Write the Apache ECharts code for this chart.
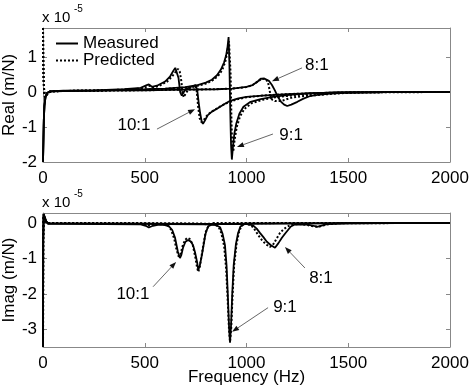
<!DOCTYPE html>
<html><head><meta charset="utf-8">
<script src="https://cdn.jsdelivr.net/npm/echarts@6/dist/echarts.min.js"></script>
<style>html,body{margin:0;padding:0;background:#fff}#c{width:474px;height:389px}</style>
</head><body><div id="c"></div>
<script>
// ---- tick labels / ranges ----
const xTicks = [0, 500, 1000, 1500, 2000];
const realTicks = [-2, -1, 0, 1];
const imagTicks = [-3, -2, -1, 0];
const realRange = [-2, 1.83];
const imagRange = [-3.5, 0.28];
const seriesNames = ['Measured', 'Predicted'];

// ---- Real part (x 1e-5 m/N) ----
const measured10Real = [[0,-2.0],[2,-1.4],[4,-0.8],[7,-0.4],[12,-0.15],[20,-0.03],[35,0.02],[100,0.04],[250,0.05],[400,0.08],[480,0.12],[510,0.2],[520,0.22],[535,0.15],[560,0.18],[600,0.3],[625,0.45],[640,0.6],[650,0.69],[658,0.66],[666,0.4],[674,0.0],[682,-0.1],[690,-0.06],[700,0.08],[720,0.13],[740,0.18],[750,0.2],[758,0.05],[765,-0.3],[772,-0.6],[780,-0.85],[786,-0.91],[795,-0.82],[810,-0.66],[830,-0.56],[855,-0.48],[890,-0.35],[920,-0.25],[960,-0.18],[1000,-0.14],[1080,-0.1],[1200,-0.06],[1300,-0.04],[1450,-0.01],[1700,0.0],[2000,0.0]];
const measured9Real = [[0,-2.0],[2,-1.4],[4,-0.8],[7,-0.4],[12,-0.15],[20,-0.03],[35,0.02],[100,0.03],[300,0.05],[500,0.08],[600,0.1],[700,0.14],[760,0.2],[800,0.27],[830,0.35],[855,0.48],[875,0.65],[890,0.85],[900,1.05],[907,1.3],[912,1.57],[916,0.8],[920,-0.5],[924,-1.5],[928,-1.93],[933,-1.6],[940,-1.2],[950,-0.9],[965,-0.62],[985,-0.42],[1020,-0.28],[1070,-0.2],[1130,-0.14],[1200,-0.09],[1300,-0.04],[1450,-0.01],[1700,0.0],[2000,0.0]];
const measured8Real = [[0,-2.0],[2,-1.4],[4,-0.8],[7,-0.4],[12,-0.15],[20,-0.03],[35,0.02],[100,0.03],[300,0.04],[500,0.05],[700,0.07],[850,0.08],[930,0.1],[1000,0.15],[1030,0.2],[1055,0.3],[1070,0.38],[1078,0.4],[1090,0.38],[1110,0.32],[1125,0.2],[1140,0.04],[1155,-0.15],[1170,-0.28],[1185,-0.36],[1200,-0.4],[1220,-0.36],[1250,-0.28],[1280,-0.19],[1310,-0.12],[1350,-0.08],[1400,-0.05],[1500,-0.02],[1700,0.0],[2000,0.0]];
const predicted10Real = [[0,1.83],[1,1.0],[3,0.35],[6,0.0],[10,-0.15],[16,-0.1],[25,-0.02],[40,0.02],[100,0.03],[250,0.04],[400,0.07],[480,0.1],[515,0.16],[525,0.18],[540,0.13],[570,0.17],[610,0.3],[635,0.45],[652,0.58],[664,0.66],[672,0.58],[680,0.3],[686,-0.05],[692,-0.15],[700,-0.05],[715,0.08],[735,0.14],[750,0.18],[756,0.0],[762,-0.4],[770,-0.75],[778,-0.86],[790,-0.8],[810,-0.64],[840,-0.52],[880,-0.38],[920,-0.27],[960,-0.2],[1000,-0.15],[1080,-0.1],[1200,-0.06],[1350,-0.03],[1500,-0.01],[2000,0.0]];
const predicted9Real = [[0,1.83],[1,1.0],[3,0.35],[6,0.0],[10,-0.15],[16,-0.1],[25,-0.02],[40,0.02],[100,0.03],[300,0.05],[500,0.07],[600,0.09],[700,0.13],[760,0.18],[800,0.24],[830,0.32],[860,0.46],[880,0.62],[895,0.85],[906,1.15],[914,1.45],[918,1.5],[922,0.5],[926,-0.8],[930,-1.6],[935,-1.7],[942,-1.35],[952,-1.0],[968,-0.7],[990,-0.48],[1025,-0.32],[1080,-0.22],[1140,-0.15],[1220,-0.1],[1320,-0.05],[1450,-0.02],[1700,0.0],[2000,0.0]];
const predicted8Real = [[0,1.83],[1,1.0],[3,0.35],[6,0.0],[10,-0.15],[16,-0.1],[25,-0.02],[40,0.02],[100,0.03],[300,0.04],[500,0.05],[700,0.07],[850,0.08],[930,0.1],[1000,0.14],[1030,0.2],[1055,0.3],[1075,0.38],[1090,0.38],[1105,0.3],[1112,0.1],[1118,-0.1],[1126,-0.22],[1140,-0.26],[1160,-0.26],[1180,-0.24],[1200,-0.2],[1230,-0.15],[1270,-0.12],[1320,-0.1],[1380,-0.07],[1450,-0.04],[1550,-0.01],[1700,0.0],[2000,0.0]];

// ---- Imaginary part (x 1e-5 m/N) ----
const measured10Imag = [[0,-3.5],[1,-0.5],[3,0.25],[8,0.2],[15,0.05],[25,-0.02],[60,-0.02],[300,-0.03],[480,-0.04],[505,-0.08],[520,-0.13],[540,-0.08],[570,-0.05],[600,-0.06],[620,-0.1],[635,-0.2],[649,-0.42],[663,-0.82],[673,-0.99],[680,-0.9],[688,-0.7],[700,-0.53],[713,-0.48],[725,-0.52],[737,-0.62],[748,-0.85],[757,-1.1],[763,-1.32],[770,-1.22],[781,-0.9],[790,-0.6],[798,-0.32],[811,-0.1],[835,-0.03],[1000,-0.02],[1300,-0.01],[2000,0.0]];
const measured9Imag = [[0,-3.5],[1,-0.5],[3,0.25],[8,0.2],[15,0.05],[25,-0.02],[60,-0.02],[400,-0.02],[600,-0.03],[800,-0.04],[850,-0.06],[870,-0.12],[882,-0.3],[894,-0.62],[902,-1.2],[908,-2.0],[914,-2.9],[919,-3.38],[924,-2.9],[930,-2.0],[937,-1.2],[948,-0.6],[958,-0.3],[970,-0.1],[993,-0.02],[1300,-0.01],[2000,0.0]];
const measured8Imag = [[0,-3.5],[1,-0.5],[3,0.25],[8,0.2],[15,0.05],[25,-0.02],[60,-0.02],[500,-0.02],[800,-0.03],[1000,-0.03],[1032,-0.07],[1050,-0.16],[1066,-0.28],[1083,-0.4],[1100,-0.53],[1120,-0.63],[1140,-0.7],[1157,-0.57],[1174,-0.42],[1190,-0.3],[1204,-0.2],[1218,-0.1],[1235,-0.05],[1300,-0.05],[1330,-0.08],[1346,-0.11],[1365,-0.08],[1400,-0.03],[1500,-0.01],[2000,0.0]];
const predicted10Imag = [[0,-3.5],[1,-0.5],[3,0.2],[8,0.15],[15,0.03],[25,0.0],[60,0.0],[300,-0.01],[480,-0.02],[510,-0.05],[525,-0.07],[545,-0.04],[600,-0.04],[615,-0.08],[630,-0.2],[645,-0.45],[656,-0.75],[667,-0.95],[676,-0.88],[686,-0.65],[698,-0.48],[710,-0.42],[722,-0.46],[735,-0.6],[748,-0.95],[757,-1.25],[763,-1.38],[770,-1.25],[780,-0.9],[790,-0.55],[800,-0.25],[815,-0.06],[840,0.0],[2000,0.0]];
const predicted9Imag = [[0,-3.5],[1,-0.5],[3,0.2],[8,0.15],[15,0.03],[25,0.0],[60,0.0],[400,-0.01],[700,-0.02],[840,-0.04],[862,-0.1],[876,-0.28],[890,-0.65],[900,-1.3],[907,-2.1],[914,-3.0],[919,-3.35],[925,-2.95],[931,-2.1],[939,-1.2],[951,-0.6],[962,-0.28],[975,-0.08],[1000,-0.01],[1300,0.0],[2000,0.0]];
const predicted8Imag = [[0,-3.5],[1,-0.5],[3,0.2],[8,0.15],[15,0.03],[25,0.0],[60,0.0],[500,-0.01],[800,-0.02],[1000,-0.02],[1025,-0.08],[1042,-0.2],[1057,-0.34],[1075,-0.48],[1095,-0.6],[1115,-0.68],[1130,-0.62],[1147,-0.45],[1165,-0.28],[1182,-0.18],[1199,-0.11],[1220,-0.05],[1260,-0.03],[1300,-0.06],[1330,-0.1],[1360,-0.1],[1390,-0.05],[1450,-0.01],[2000,0.0]];

// ---- annotations (data coordinates) ----
const annotations = [
  {panel:0, text:'8:1',  at:[1346,0.77],  from:[1273,0.69],  to:[1125,0.31]},
  {panel:0, text:'10:1', at:[447,-0.94],  from:[560,-1.06],  to:[747,-0.49]},
  {panel:0, text:'9:1',  at:[1219,-1.23], from:[1130,-1.2],  to:[953,-1.57]},
  {panel:1, text:'10:1', at:[442,-2.0],   from:[541,-1.8],   to:[654,-1.1]},
  {panel:1, text:'9:1',  at:[1189,-2.39], from:[1106,-2.39], to:[929,-3.07]},
  {panel:1, text:'8:1',  at:[1366,-1.55], from:[1287,-1.27], to:[1189,-0.68]}
];

const FONT = '"Liberation Sans", Arial, Helvetica, sans-serif';
const AX = '#888';

function xAx(gridIndex, pos, labels, name) {
  return {
    type: 'value', gridIndex, position: pos, min: xTicks[0], max: xTicks[xTicks.length-1],
    interval: xTicks[1] - xTicks[0],
    name: name || '', nameLocation: 'middle', nameGap: 22, nameMoveOverlap: false,
    nameTextStyle: {fontSize: 17, color: '#000', fontFamily: FONT},
    axisLine: {show: true, onZero: false, lineStyle: {color: AX, width: 1}},
    axisTick: {show: true, inside: true, length: 4, lineStyle: {color: AX}},
    axisLabel: {show: labels, color: '#000', fontSize: 17, margin: 8, fontFamily: FONT,
      formatter: v => String(v)},
    splitLine: {show: false}
  };
}
function yAx(gridIndex, pos, range, ticks, labels, name) {
  return {
    type: 'value', gridIndex, position: pos, min: range[0], max: range[1],
    name: name || '', nameLocation: 'middle', nameGap: 25, nameRotate: 90, nameMoveOverlap: false,
    nameTextStyle: {fontSize: 17, color: '#000', fontFamily: FONT},
    axisLine: {show: true, onZero: false, lineStyle: {color: AX, width: 1}},
    axisTick: {show: true, inside: true, length: 4, customValues: ticks, lineStyle: {color: AX}},
    axisLabel: {show: labels, customValues: ticks, color: '#000', fontSize: 17, margin: 6, fontFamily: FONT,
      formatter: v => String(v)},
    splitLine: {show: false}
  };
}
function ser(name, data, xi, yi, dotted) {
  return {
    type: 'line', name, data, xAxisIndex: xi, yAxisIndex: yi,
    symbol: 'none', showSymbol: false, animation: false, clip: true,
    color: '#000',
    itemStyle: {color: '#000'},
    z: dotted ? 3 : 2,
    lineStyle: dotted ? {color: '#000', width: 2, type: [2, 2]} : {color: '#000', width: 1.8, type: 'solid'}
  };
}

const chart = echarts.init(document.getElementById('c'), null, {renderer: 'canvas'});
const option = {
  backgroundColor: '#fff',
  animation: false,
  grid: [
    {left: 43, top: 28, width: 407, height: 134, containLabel: false, outerBoundsMode: 'none'},
    {left: 43, top: 213, width: 407, height: 134, containLabel: false, outerBoundsMode: 'none'}
  ],
  xAxis: [
    xAx(0, 'bottom', true),
    xAx(0, 'top', false),
    xAx(1, 'bottom', true, 'Frequency (Hz)'),
    xAx(1, 'top', false)
  ],
  yAxis: [
    yAx(0, 'left', realRange, realTicks, true, 'Real (m/N)'),
    yAx(0, 'right', realRange, realTicks, false),
    yAx(1, 'left', imagRange, imagTicks, true, 'Imag (m/N)'),
    yAx(1, 'right', imagRange, imagTicks, false)
  ],
  legend: {
    data: seriesNames, orient: 'vertical', left: 55, top: 35, padding: 0,
    itemWidth: 22, itemHeight: 10, itemGap: 0,
    itemStyle: {opacity: 0},
    textStyle: {fontSize: 17, lineHeight: 17, color: '#000', fontFamily: FONT},
    selectedMode: false
  },
  series: [
    ser(seriesNames[0], measured10Real, 0, 0, false),
    ser(seriesNames[0], measured9Real, 0, 0, false),
    ser(seriesNames[0], measured8Real, 0, 0, false),
    ser(seriesNames[1], predicted10Real, 0, 0, true),
    ser(seriesNames[1], predicted9Real, 0, 0, true),
    ser(seriesNames[1], predicted8Real, 0, 0, true),
    ser(seriesNames[0], measured10Imag, 2, 2, false),
    ser(seriesNames[0], measured9Imag, 2, 2, false),
    ser(seriesNames[0], measured8Imag, 2, 2, false),
    ser(seriesNames[1], predicted10Imag, 2, 2, true),
    ser(seriesNames[1], predicted9Imag, 2, 2, true),
    ser(seriesNames[1], predicted8Imag, 2, 2, true)
  ]
};
chart.setOption(option);

const graphics = [];
// exponent labels
[[0, 10, 4], [1, 195, 189]].forEach(([p, tMain, tSup]) => {
  graphics.push({type: 'text', left: 42, top: tMain, z: 10,
    style: {text: 'x 10', fontSize: 15, fill: '#000', font: '15px ' + FONT}});
  graphics.push({type: 'text', left: 74, top: tSup, z: 10,
    style: {text: '-5', fontSize: 10, fill: '#000', font: '10px ' + FONT}});
});
annotations.forEach(a => {
  const finder = a.panel === 0 ? {xAxisIndex: 0, yAxisIndex: 0} : {xAxisIndex: 2, yAxisIndex: 2};
  const t = chart.convertToPixel(finder, a.at);
  const f = chart.convertToPixel(finder, a.from);
  const e = chart.convertToPixel(finder, a.to);
  const dx = e[0] - f[0], dy = e[1] - f[1];
  const L = Math.sqrt(dx * dx + dy * dy);
  const ux = dx / L, uy = dy / L;
  const bx = e[0] - ux * 7, by = e[1] - uy * 7;
  const nx = -uy * 2.6, ny = ux * 2.6;
  graphics.push({type: 'text', x: t[0], y: t[1], z: 10,
    style: {text: a.text, fill: '#000', font: '17px ' + FONT, align: 'center', verticalAlign: 'middle'}});
  graphics.push({type: 'line', z: 10, shape: {x1: f[0], y1: f[1], x2: bx, y2: by},
    style: {stroke: '#555', lineWidth: 0.9}});
  graphics.push({type: 'polygon', z: 10, shape: {points: [[e[0], e[1]], [bx + nx, by + ny], [bx - nx, by - ny]]},
    style: {fill: '#111'}});
});
chart.setOption({graphic: graphics});
</script>
</body></html>
